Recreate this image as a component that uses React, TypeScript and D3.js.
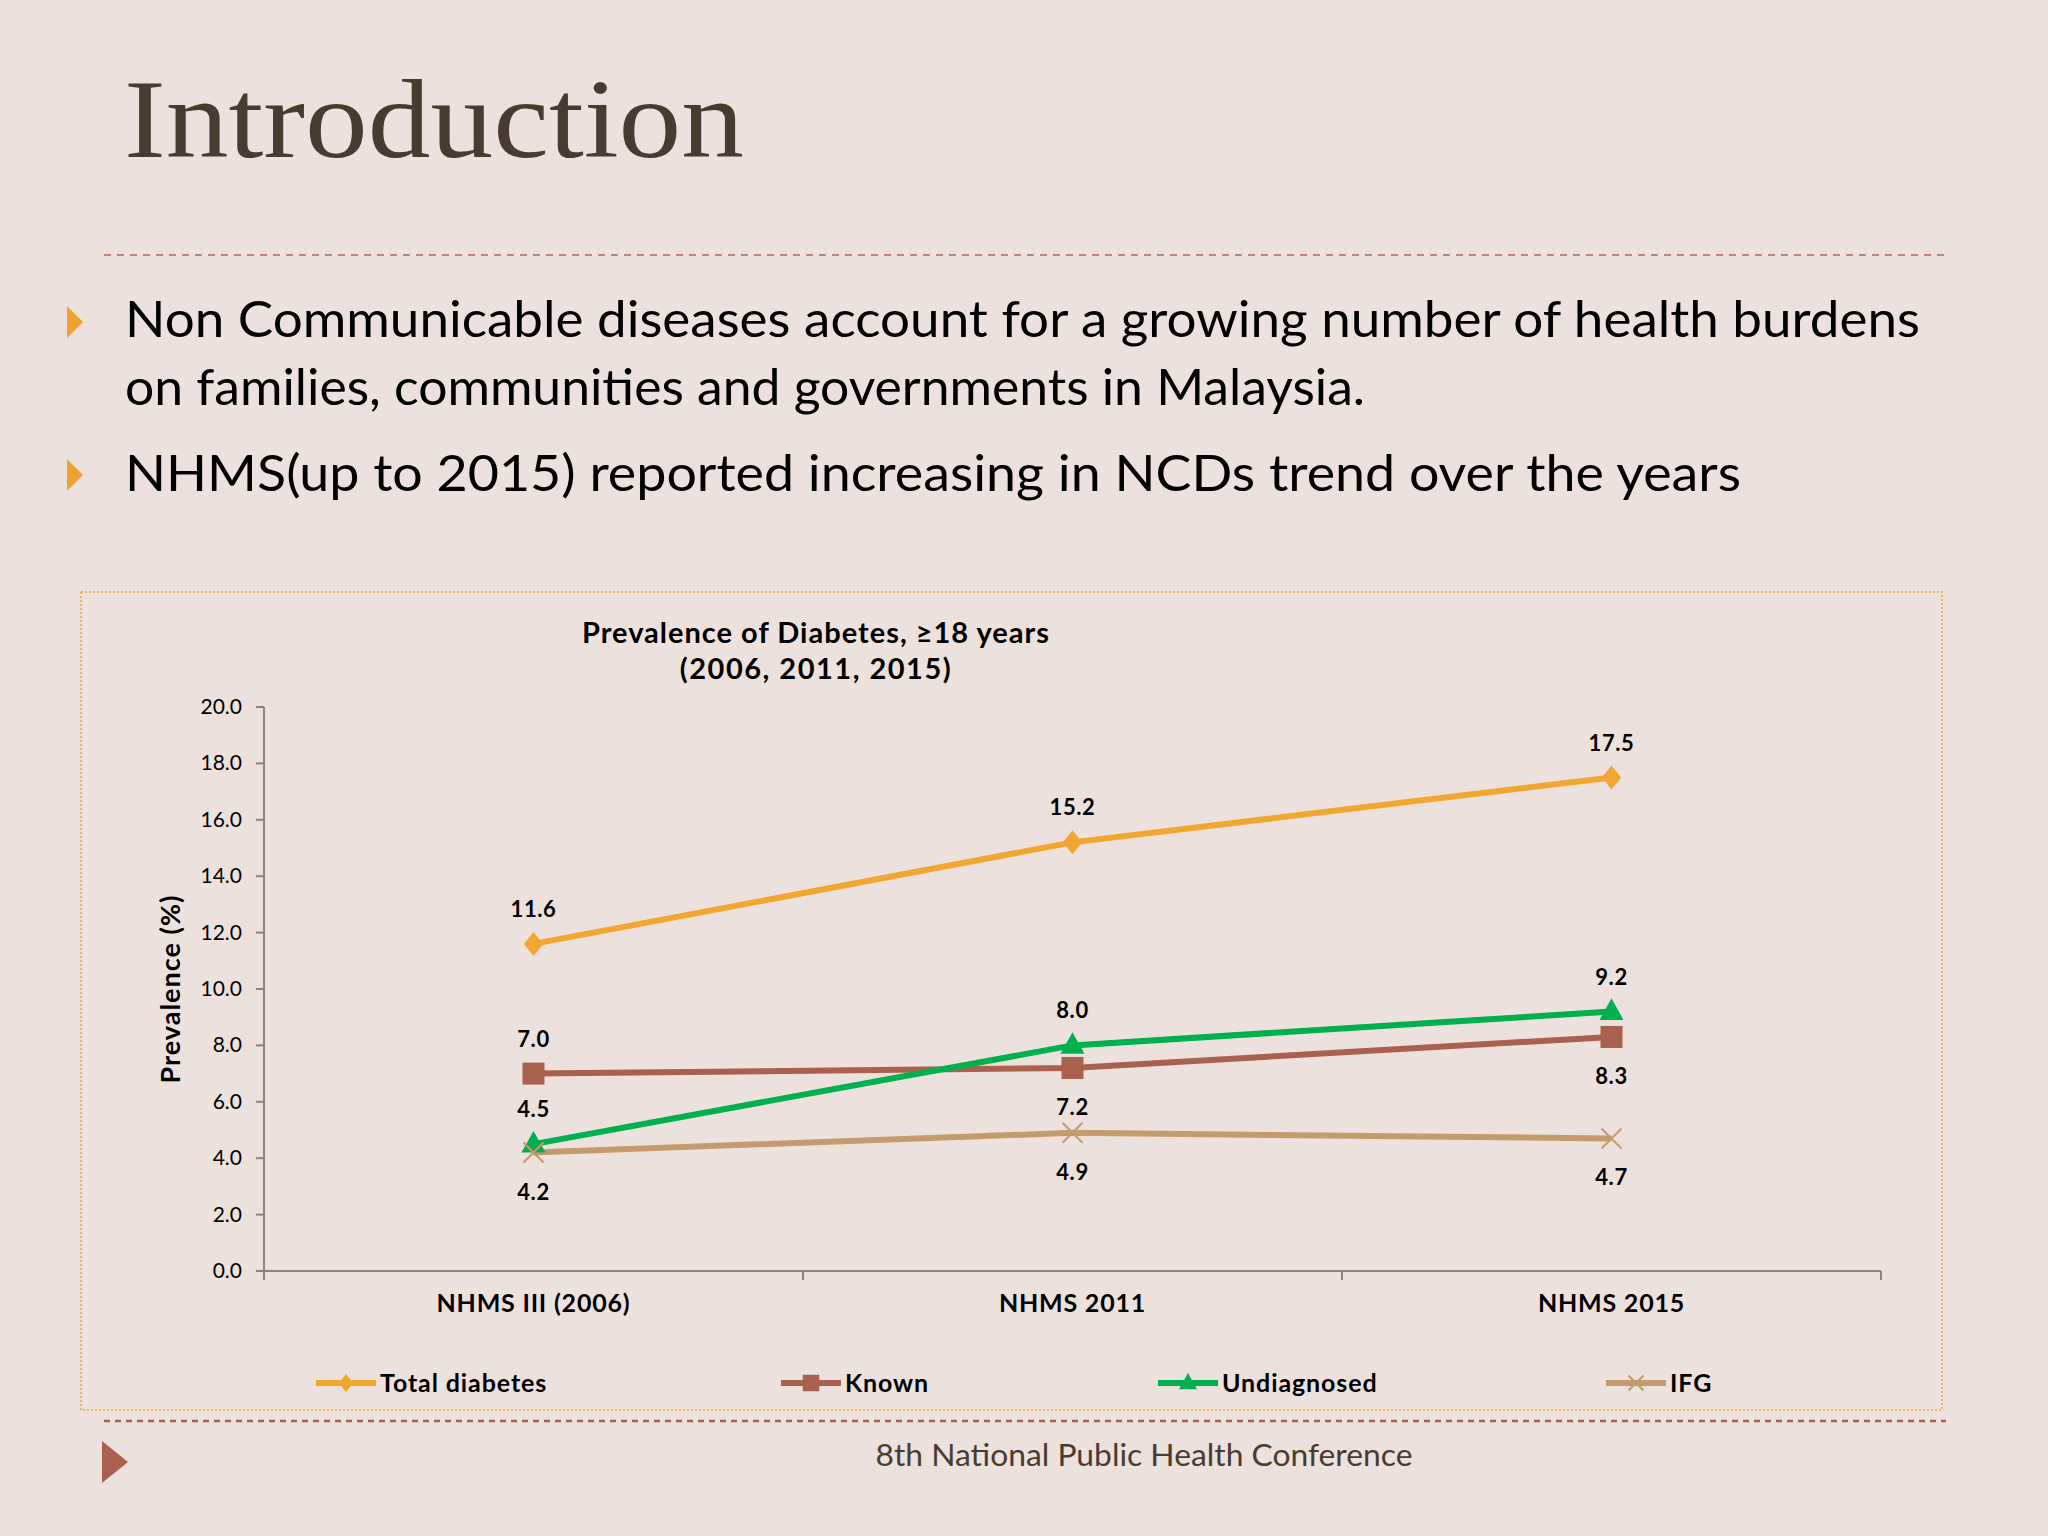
import React from 'react';
import * as d3 from 'd3';

const surveys = ['NHMS III (2006)', 'NHMS 2011', 'NHMS 2015'];
const totalDiabetes = [11.6, 15.2, 17.5];
const known = [7.0, 7.2, 8.3];
const undiagnosed = [4.5, 8.0, 9.2];
const ifg = [4.2, 4.9, 4.7];
const seriesNames = ['Total diabetes', 'Known', 'Undiagnosed', 'IFG'];
const yTicks = [0, 2, 4, 6, 8, 10, 12, 14, 16, 18, 20];
// where each value label sits relative to its point
const labelSides = [
  ['above', 'above', 'above'],
  ['above', 'below', 'below'],
  ['above', 'above', 'above'],
  ['below', 'below', 'below'],
];

const bullets = [
  'Non Communicable diseases account for a growing number of health burdens',
  'on families, communities and governments in Malaysia.',
  'NHMS(up to 2015) reported increasing in NCDs trend over the years',
];

const colors = ['#f0a630', '#a9604c', '#00b04f', '#c59a6c'];
const shapes = ['diamond', 'square', 'triangle', 'cross'];
const sans = 'Lato, "Open Sans", sans-serif';
const bg = '#ede1dd';

const W = 2048;
const H = 1536;

const Marker: React.FC<{ shape: string; x: number; y: number; color: string; s?: number }> = ({ shape, x, y, color, s = 1 }) => {
  if (shape === 'diamond') {
    const r = 12 * s;
    return <path d={`M${x},${y - r}L${x + r * 0.8},${y}L${x},${y + r}L${x - r * 0.8},${y}Z`} fill={color} />;
  }
  if (shape === 'square') {
    const r = 11 * s;
    return <rect x={x - r} y={y - r} width={2 * r} height={2 * r} fill={color} />;
  }
  if (shape === 'triangle') {
    const r = 12 * s;
    return <path d={`M${x},${y - r * 1.1}L${x + r},${y + r * 0.7}L${x - r},${y + r * 0.7}Z`} fill={color} />;
  }
  const r = 10 * s;
  return (
    <path d={`M${x - r},${y - r}L${x + r},${y + r}M${x - r},${y + r}L${x + r},${y - r}`} stroke={color} strokeWidth={2} fill="none" />
  );
};

const App: React.FC = () => {
  const x = d3.scaleBand<string>().domain(surveys).range([264, 1881]);
  const y = d3.scaleLinear().domain([0, 20]).range([1271, 707]);
  const cx = (s: string) => (x(s) ?? 0) + x.bandwidth() / 2;
  const all = [totalDiabetes, known, undiagnosed, ifg];
  const line = d3
    .line<number>()
    .x((_, i) => cx(surveys[i]))
    .y((d) => y(d));

  const bounds = [264, ...surveys.map((s) => (x(s) ?? 0) + x.bandwidth())];
  const legendX = [316, 781, 1158, 1606];

  return (
    <svg width={W} height={H} style={{ display: 'block', position: 'absolute', left: 0, top: 0 }}>
      <rect width={W} height={H} fill={bg} />
      <text x={124} y={157} fontFamily='"Liberation Serif", "DejaVu Serif", serif' fontSize={113} fill="#4a3b30" textLength={620} lengthAdjust="spacingAndGlyphs">
        Introduction
      </text>
      <line x1={104} x2={1946} y1={255} y2={255} stroke="#bf8676" strokeWidth={2} strokeDasharray="7,6" />

      {[322, 475].map((by, i) => (
        <path key={i} d={`M67,${by - 16}L83,${by}L67,${by + 16}Z`} fill="#eea22f" />
      ))}
      {bullets.map((t, i) => (
        <text
          key={i}
          x={125}
          y={[337, 405, 491][i]}
          fontFamily={sans}
          fontSize={50}
          fill="#000"
          textLength={[1795, 1240, 1616][i]}
          lengthAdjust="spacingAndGlyphs"
        >
          {t}
        </text>
      ))}

      {/* chart frame */}
      <rect x={81} y={592} width={1861} height={818} fill="none" stroke="#f0a630" strokeWidth={1.5} strokeDasharray="2,2" />

      <text x={816} y={643} textAnchor="middle" fontFamily={sans} fontWeight="bold" fontSize={29} letterSpacing={1} fill="#000">
        Prevalence of Diabetes, ≥18 years
      </text>
      <text x={816} y={679} textAnchor="middle" fontFamily={sans} fontWeight="bold" fontSize={29} letterSpacing={1.5} fill="#000">
        (2006, 2011, 2015)
      </text>

      {/* y axis */}
      <line x1={264} x2={264} y1={y(20)} y2={y(0)} stroke="#8c8282" strokeWidth={2} />
      {yTicks.map((t) => (
        <g key={t}>
          <line x1={256} x2={264} y1={y(t)} y2={y(t)} stroke="#8c8282" strokeWidth={2} />
          <text x={242} y={y(t) + 7} textAnchor="end" fontFamily={sans} fontSize={21} fill="#000">
            {t.toFixed(1)}
          </text>
        </g>
      ))}
      <text
        transform={`translate(180,${y(10)}) rotate(-90)`}
        textAnchor="middle"
        fontFamily={sans}
        fontWeight="bold"
        fontSize={27}
        letterSpacing={1}
        fill="#000"
      >
        Prevalence (%)
      </text>

      {/* x axis */}
      <line x1={264} x2={1881} y1={y(0)} y2={y(0)} stroke="#8c8282" strokeWidth={2} />
      {bounds.map((b, i) => (
        <line key={i} x1={b} x2={b} y1={y(0)} y2={y(0) + 9} stroke="#8c8282" strokeWidth={2} />
      ))}
      {surveys.map((s) => (
        <text key={s} x={cx(s)} y={1312} textAnchor="middle" fontFamily={sans} fontWeight="bold" fontSize={25} letterSpacing={0.8} fill="#000">
          {s}
        </text>
      ))}

      {/* series */}
      {all.map((vals, si) => (
        <path key={si} d={line(vals) ?? ''} fill="none" stroke={colors[si]} strokeWidth={6} />
      ))}
      {all.map((vals, si) =>
        vals.map((v, i) => <Marker key={`${si}-${i}`} shape={shapes[si]} x={cx(surveys[i])} y={y(v)} color={colors[si]} />),
      )}
      {all.map((vals, si) =>
        vals.map((v, i) => (
          <text
            key={`l${si}-${i}`}
            x={cx(surveys[i])}
            y={labelSides[si][i] === 'above' ? y(v) - 27 : y(v) + 47}
            textAnchor="middle"
            fontFamily={sans}
            fontWeight="bold"
            fontSize={22}
            letterSpacing={0.6}
            fill="#000"
          >
            {v.toFixed(1)}
          </text>
        )),
      )}

      {/* legend */}
      {seriesNames.map((n, si) => (
        <g key={n}>
          <line x1={legendX[si]} x2={legendX[si] + 60} y1={1383} y2={1383} stroke={colors[si]} strokeWidth={6} />
          <Marker shape={shapes[si]} x={legendX[si] + 30} y={1383} color={colors[si]} s={0.75} />
          <text x={legendX[si] + 64} y={1392} fontFamily={sans} fontWeight="bold" fontSize={25} letterSpacing={0.9} fill="#000">
            {n}
          </text>
        </g>
      ))}

      <line x1={104} x2={1946} y1={1421} y2={1421} stroke="#a9604c" strokeWidth={2.5} strokeDasharray="6,5" />
      <path d="M102,1441L128,1462L102,1483Z" fill="#a9604c" />
      <text x={1144} y={1466} textAnchor="middle" fontFamily={sans} fontSize={30} fill="#4a3b30" textLength={537} lengthAdjust="spacingAndGlyphs">
        8th National Public Health Conference
      </text>
    </svg>
  );
};

export default App;
